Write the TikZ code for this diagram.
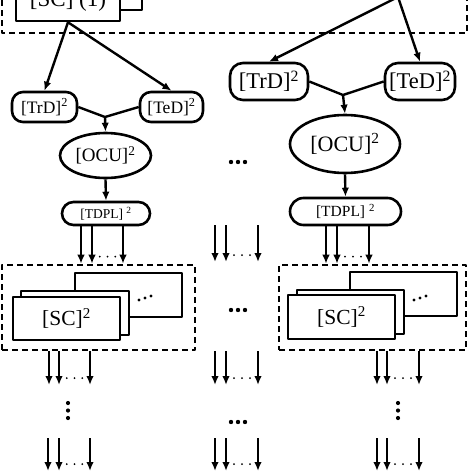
\documentclass[tikz,border=0pt]{standalone}
\usepackage{fontspec}
\setmainfont{Liberation Serif}
\usetikzlibrary{shapes.geometric,arrows.meta}
\newcommand\fs[1]{\fontsize{#1}{#1}\selectfont}
\newcommand\sq{\textsuperscript{2}}
% a row of three arrows with dots between the last two
\newcommand\arrowrow[5]{%
  \foreach \xx in {#3,#4,#5}{\coordinate (ax) at (\xx,0); \draw[arr] (#1 -| ax) -- (#2 -| ax);}
  \foreach \k in {1,2,3}{\coordinate (ax) at ({#4+(#5-#4)*\k/4},0); \fill (#2 -| ax) ++(0,-7) circle (1pt);}}
\begin{document}
\begin{tikzpicture}[x=1pt,y=-1pt,line join=round,>={Latex[length=9pt,width=7.5pt]},
  blk/.style={draw,line width=2.6pt,fill=white,inner sep=0pt},
  dbox/.style={draw,line width=2.6pt,rounded corners=11pt,inner sep=0pt},
  oval/.style={draw,ellipse,line width=2.6pt,inner sep=0pt},
  grp/.style={draw,line width=2.6pt,dash pattern=on 6pt off 4pt,inner sep=0pt},
  arr/.style={->,line width=2.4pt}]
\useasboundingbox (0,0) rectangle (474,474);
\clip (0,0) rectangle (474,474);
% top group
\draw[grp] (2,-20) rectangle (467,33);
\node[blk,minimum width=102pt,minimum height=40pt] (scB) at (91,-10) {};
\node[blk,minimum width=104pt,minimum height=41pt,font=\fs{23}] (scA) at (68,0.5) {[SC] (1)};
\coordinate (scR) at (398,-3);
% left column
\node[dbox,minimum width=65pt,minimum height=30pt,font=\fs{17.5}] (trdL) at (44.5,107) {[TrD]\sq};
\node[dbox,minimum width=63pt,minimum height=30pt,font=\fs{17.5}] (tedL) at (171.5,107) {[TeD]\sq};
\coordinate (jL) at (105,117);
\node[oval,minimum width=91pt,minimum height=45pt,font=\fs{19}] (ocuL) at (105.5,155.5) {[OCU]\sq};
\node[dbox,rounded corners=11.5pt,minimum width=88pt,minimum height=23pt,font=\fs{13.5}] (tdplL) at (106,213.5) {[TDPL] \sq};
\draw[arr] (scA.south) -- (trdL.north);
\draw[arr] (scA.south) -- (tedL.north);
\draw[line width=2.4pt] (trdL.east) -- (jL) -- (tedL.west);
\draw[arr] (jL) -- (ocuL.north);
\draw[arr] (ocuL.south) -- (tdplL.north);
\node[grp,minimum width=193pt,minimum height=85pt] (grpL) at (98.5,307.5) {};
\node[blk,minimum width=107pt,minimum height=44pt] (scL3) at (128.5,295) {};
\node[blk,minimum width=108pt,minimum height=44pt] (scL2) at (75,313) {};
\node[blk,minimum width=107pt,minimum height=43pt,font=\fs{21.5}] (scL1) at (66.5,318.5) {[SC]\sq};
\foreach \x/\y in {139/300,145/298,151/296}{\fill (\x,\y) circle (1.7pt);}
% right column
\node[dbox,rounded corners=13pt,minimum width=78pt,minimum height=37pt,font=\fs{22.5}] (trdR) at (269,81.5) {[TrD]\sq};
\node[dbox,rounded corners=13pt,minimum width=70pt,minimum height=37pt,font=\fs{22.5}] (tedR) at (420,81.5) {[TeD]\sq};
\coordinate (jR) at (343,95);
\node[oval,minimum width=110pt,minimum height=58pt,font=\fs{22}] (ocuR) at (345,144) {[OCU]\sq};
\node[dbox,rounded corners=13.5pt,minimum width=111pt,minimum height=27pt,font=\fs{15.5}] (tdplR) at (345.5,211.5) {[TDPL] \sq};
\draw[arr] (scR) -- (trdR.north);
\draw[arr] (scR) -- (tedR.north);
\draw[line width=2.4pt] (trdR.east) -- (jR) -- (tedR.west);
\draw[arr] (jR) -- (ocuR.north);
\draw[arr] (ocuR.south) -- (tdplR.north);
\node[grp,minimum width=187pt,minimum height=85pt] (grpR) at (372.5,307.5) {};
\node[blk,minimum width=107pt,minimum height=44pt] (scR3) at (403.5,294) {};
\node[blk,minimum width=107pt,minimum height=44pt] (scR2) at (350.5,312) {};
\node[blk,minimum width=107pt,minimum height=44pt,font=\fs{21.5}] (scR1) at (341.5,317) {[SC]\sq};
\foreach \x/\y in {414/300,420/298,426/296}{\fill (\x,\y) circle (1.7pt);}
% arrow rows
\coordinate (rowAt) at (0,225); \coordinate (rowAb) at (0,262);
\coordinate (rowBt) at (0,351); \coordinate (rowBb) at (0,385);
\coordinate (rowCt) at (0,438); \coordinate (rowCb) at (0,471);
\arrowrow{tdplL.south}{grpL.north}{81}{92}{123}
\arrowrow{rowAt}{rowAb}{215}{226}{258}
\arrowrow{tdplR.south}{grpR.north}{326}{337}{369}
\arrowrow{grpL.south}{rowBb}{49}{59}{90}
\arrowrow{rowBt}{rowBb}{215}{226}{258}
\arrowrow{grpR.south}{rowBb}{377}{387}{419}
\arrowrow{rowCt}{rowCb}{48}{59}{90}
\arrowrow{rowCt}{rowCb}{215}{226}{258}
\arrowrow{rowCt}{rowCb}{377}{387}{419}
% dots
\foreach \y in {403,410.5,418}{\fill (68,\y) circle (2.1pt); \fill (398,\y) circle (2.1pt);}
\foreach \x in {231,238,245}{\fill (\x,162) circle (2.2pt); \fill (\x,310) circle (2.2pt); \fill (\x,422) circle (2.2pt);}
\end{tikzpicture}
\end{document}
